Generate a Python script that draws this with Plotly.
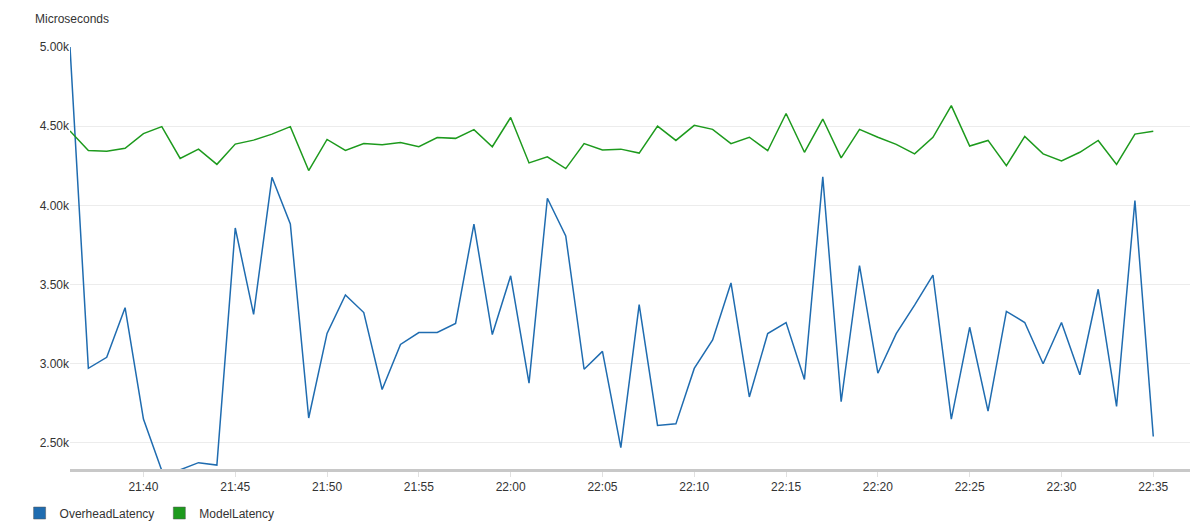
import pandas as pd
import plotly.graph_objects as go

# one point per minute, 21:36 -> 22:35
times = pd.date_range("2023-01-01 21:36", "2023-01-01 22:35", freq="1min")

overhead_latency = [
    5000, 2971, 3040, 3354, 2650, 2325, 2330, 2375, 2360, 3857,
    3312, 4177, 3882, 2657, 3191, 3434, 3323, 2837, 3122, 3197,
    3197, 3254, 3882, 3184, 3555, 2877, 4045, 3807, 2965, 3078,
    2470, 3373, 2610, 2620, 2970, 3150, 3510, 2790, 3190, 3260,
    2900, 4180, 2760, 3620, 2940, 3190, 3370, 3560, 2650, 3230,
    2700, 3330, 3260, 3000, 3260, 2930, 3470, 2730, 4030, 2540,
]

model_latency = [
    4470, 4347, 4342, 4360, 4453, 4497, 4296, 4355, 4259, 4387,
    4412, 4450, 4497, 4220, 4416, 4347, 4391, 4383, 4397, 4370,
    4428, 4423, 4478, 4370, 4555, 4268, 4306, 4232, 4390, 4350,
    4355, 4330, 4500, 4410, 4505, 4480, 4390, 4430, 4345, 4580,
    4335, 4545, 4300, 4480, 4430, 4385, 4325, 4430, 4630, 4375,
    4410, 4250, 4435, 4325, 4280, 4335, 4410, 4258, 4450, 4468,
]

series = [("OverheadLatency", overhead_latency, "#1f6cb0"),
          ("ModelLatency", model_latency, "#1d9a1d")]

fig = go.Figure()
for name, vals, color in series:
    fig.add_trace(go.Scatter(x=times, y=vals, mode="lines", name=name,
                             showlegend=False,
                             line=dict(color=color, width=1.5)))
# legend entries drawn as square swatches
for name, vals, color in series:
    fig.add_trace(go.Scatter(x=[None], y=[None], mode="markers", name=name,
                             marker=dict(symbol="square", size=12, color=color,
                                         line=dict(color="#555", width=0.5))))

fig.add_annotation(text="Microseconds", xref="paper", yref="paper",
                   x=-0.033, y=1.045, xanchor="left", yanchor="bottom",
                   showarrow=False, font=dict(size=12, color="#333"))

fig.update_layout(
    width=1200, height=532,
    margin=dict(l=55, r=18, t=39, b=67),
    plot_bgcolor="white", paper_bgcolor="white",
    font=dict(family="Liberation Sans, Arial", size=12, color="#333"),
    showlegend=True,
    legend=dict(orientation="h", x=-0.045, y=-0.07, xanchor="left",
                yanchor="top", font=dict(size=12), itemwidth=30),
    xaxis=dict(
        range=["2023-01-01 21:36", "2023-01-01 22:37"],
        tickformat="%H:%M", dtick=5 * 60 * 1000,
        tick0="2023-01-01 21:40",
        showgrid=False, showline=True, linecolor="#c8c8c8", linewidth=3,
        ticks="outside", ticklen=5, tickcolor="#e0e0e0", automargin=False,
    ),
    yaxis=dict(
        range=[2335, 5000], tickvals=[2500, 3000, 3500, 4000, 4500, 5000],
        ticktext=["2.50k", "3.00k", "3.50k", "4.00k", "4.50k", "5.00k"],
        showgrid=True, gridcolor="#ececec", zeroline=False, automargin=False,
    ),
)

fig.write_html("out.html")
